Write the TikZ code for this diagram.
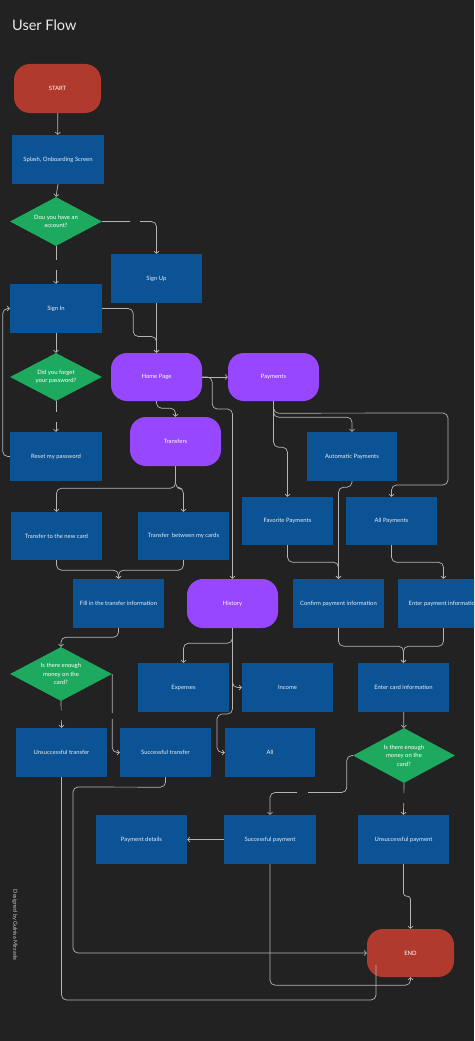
\documentclass[tikz,border=0pt]{standalone}
\usepackage{fontspec}
\setmainfont{Lato}
\usetikzlibrary{shapes.geometric,arrows.meta,calc}
\definecolor{bg}{HTML}{222222}
\definecolor{boxblue}{HTML}{0B5394}
\definecolor{dgreen}{HTML}{1EAA5E}
\definecolor{hpurple}{HTML}{9747FF}
\definecolor{tred}{HTML}{B03A2E}
\definecolor{linec}{HTML}{B4B4B4}
\definecolor{txt}{HTML}{E6EEF6}
\begin{document}
\begin{tikzpicture}[x=1pt,y=-1pt,
  base/.style={inner sep=0pt, font=\fontsize{5.9}{8.5}\selectfont, text=txt, align=center},
  bluebox/.style={base, rectangle, fill=boxblue, minimum width=91pt, minimum height=49pt},
  pill/.style={base, rectangle, rounded corners=16pt, fill=hpurple, minimum width=91pt, minimum height=48pt, text=white},
  redpill/.style={pill, fill=tred, minimum width=87pt},
  dec/.style={base, diamond, fill=dgreen, aspect=1.9, text=white},
  conn/.style={draw=linec, line width=0.7pt, rounded corners=5pt},
  arr/.style={conn, -{Straight Barb[length=2.2pt,width=5pt]}},
]
\fill[bg] (0,0) rectangle (474,1041);
\useasboundingbox (0,0) rectangle (474,1041);
\clip (0,0) rectangle (474,1041);

\node[anchor=west, text=white!92!black, font=\fontsize{14.5}{16}\selectfont, inner sep=0pt] (title) at (12,25) {User Flow};
\node[rotate=-90, text=white!80!black, font=\fontsize{5.5}{7}\selectfont, inner sep=0pt] (credit) at (15,925) {Designed by Gulnisa Mirzade};

% nodes
\node[redpill, minimum height=49pt] (start) at (57.5,88.5) {START};
\node[bluebox, minimum width=92pt] (splash) at (58,159.5) {Splash, Onboarding Screen};
\node[dec, minimum width=92pt, minimum height=49pt] (d1) at (56,221.5) {Dou you have an\\account?};
\node[bluebox] (signup) at (156.5,278.5) {Sign Up};
\node[bluebox, minimum width=92pt] (signin) at (56,308.5) {Sign In};
\node[dec, minimum width=92pt, minimum height=48pt] (d2) at (56,377) {Did you forget\\your password?};
\node[pill] (home) at (156.5,377) {Home Page};
\node[pill] (payments) at (273.5,377) {Payments};
\node[pill, minimum height=49pt] (transfers) at (175.5,441.5) {Transfers};
\node[bluebox, minimum width=92pt] (reset) at (56,456.5) {Reset my password};
\node[bluebox, minimum width=90pt] (auto) at (352,456.5) {Automatic Payments};
\node[bluebox, minimum height=48pt] (fav) at (287.5,521) {Favorite Payments};
\node[bluebox, minimum height=48pt] (allp) at (391.5,521) {All Payments};
\node[bluebox, minimum height=48pt] (tnew) at (56.5,536) {Transfer to the new card};
\node[bluebox, minimum height=48pt] (tbetween) at (183.5,536) {Transfer\ \ between my cards};
\node[bluebox] (fill) at (118.5,603.5) {Fill in the transfer information};
\node[pill, minimum height=49pt] (history) at (232.5,603.5) {History};
\node[bluebox] (confirm) at (338.5,603.5) {Confirm payment information};
\node[bluebox] (enterpay) at (443.5,603.5) {Enter payment information};
\node[dec, minimum width=102pt, minimum height=54pt] (d3) at (61,674) {Is there enough\\money on the\\card?};
\node[bluebox] (expenses) at (183.5,687.5) {Expenses};
\node[bluebox] (income) at (287.5,687.5) {Income};
\node[bluebox] (entercard) at (403.5,687.5) {Enter card information};
\node[bluebox] (utransfer) at (61.5,752.5) {Unsuccessful transfer};
\node[bluebox] (stransfer) at (165.5,752.5) {Successful transfer};
\node[bluebox, minimum width=90pt] (all) at (270,752.5) {All};
\node[dec, minimum width=102pt, minimum height=55pt] (d4) at (404,755.5) {Is there enough\\money on the\\card?};
\node[bluebox] (pdetails) at (141.5,839.5) {Payment details};
\node[bluebox, minimum width=92pt] (spay) at (270,839.5) {Successful payment};
\node[bluebox] (upay) at (403.5,839.5) {Unsuccessful payment};
\node[redpill] (end) at (410.5,953) {END};
\coordinate (endin) at (376,965);

% connectors
\draw[arr] (start) -- (splash);
\draw[arr] (splash.south) -- (d1.north);
\draw[arr, dash pattern=on 14pt off 10pt on 40pt] (d1.south) -- (signin.north);
\draw[arr, dash pattern=on 28pt off 10pt on 100pt] (d1.east) -| (signup.north);
\draw[arr] (signin.east) -- ++(31,0) -- ++(0,28) -| (home.north);
\draw[arr] (signup) -- (home);
\draw[arr] (signin) -- (d2);
\draw[arr, dash pattern=on 11pt off 10pt on 30pt] (d2.south) -- (reset.north);
\draw[arr] (reset.west) -- ++(-7,0) |- (signin.west);
\draw[arr] (home.south) -- ++(0,7) -| (transfers.north);
\draw[arr] (home) -- (payments);
\draw[arr] (home.east) -- ++(10,0) -- ++(0,32) -| (history.north);
\draw[arr] (payments.south) -- ++(0,46) -| (fav.north);
\draw[arr] (payments.south) -- ++(0,16) -| (auto.north);
\draw[arr] (payments.south) -- ++(0,12) -- (448,413) -- (448,485) -| (allp.north);
\draw[arr] (auto.south) -- ++(0,6) -| (confirm.north);
\draw[arr] (fav.south) -- ++(0,17) -| (confirm.north);
\draw[arr] (allp.south) -- ++(0,17) -| (enterpay.north);
\draw[arr] (confirm.south) -- ++(0,18) -| (entercard.north);
\draw[arr] (enterpay.south) -- ++(0,18) -| (entercard.north);
\draw[arr] (transfers.south) -- ++(0,22) -| (tnew.north);
\draw[arr] (transfers.south) -- ++(0,22) -| (tbetween.north);
\draw[arr] (tnew.south) -- ++(0,10) -| (fill.north);
\draw[arr] (tbetween.south) -- ++(0,10) -| (fill.north);
\draw[arr] (fill.south) -- ++(0,9) -| (d3.north);
\draw[arr, dash pattern=on 9pt off 10pt on 30pt] (d3.south) -- (utransfer.north);
\draw[arr, dash pattern=on 39pt off 6pt on 60pt] (d3.east) |- (stransfer.west);
\draw[arr] (history.south) -- ++(0,15) -| (expenses.north);
\draw[arr] (history.south) |- (income.west);
\draw[arr] (history.south) -- (232.5,714) -- (217,714) |- (all.west);
\draw[arr] (entercard) -- (d4);
\draw[arr, dash pattern=on 77pt off 11pt on 60pt] (d4.west) -- ++(-6,0) -- ++(0,37) -| (spay.north);
\draw[arr, dash pattern=on 10pt off 10pt on 30pt] (d4.south) -- (upay.north);
\draw[arr] (spay) -- (pdetails);
\draw[arr] (spay.south) -- ++(0,121) -| (end.south);
\draw[arr, rounded corners=3pt] (upay.south) -- ++(0,32) -| (end.north);
\draw[arr] (stransfer.south) -- ++(0,10) -- (73,787) |- (end.west);
\draw[conn] (utransfer.south) |- (376,1000) -- (endin);
\end{tikzpicture}
\end{document}
